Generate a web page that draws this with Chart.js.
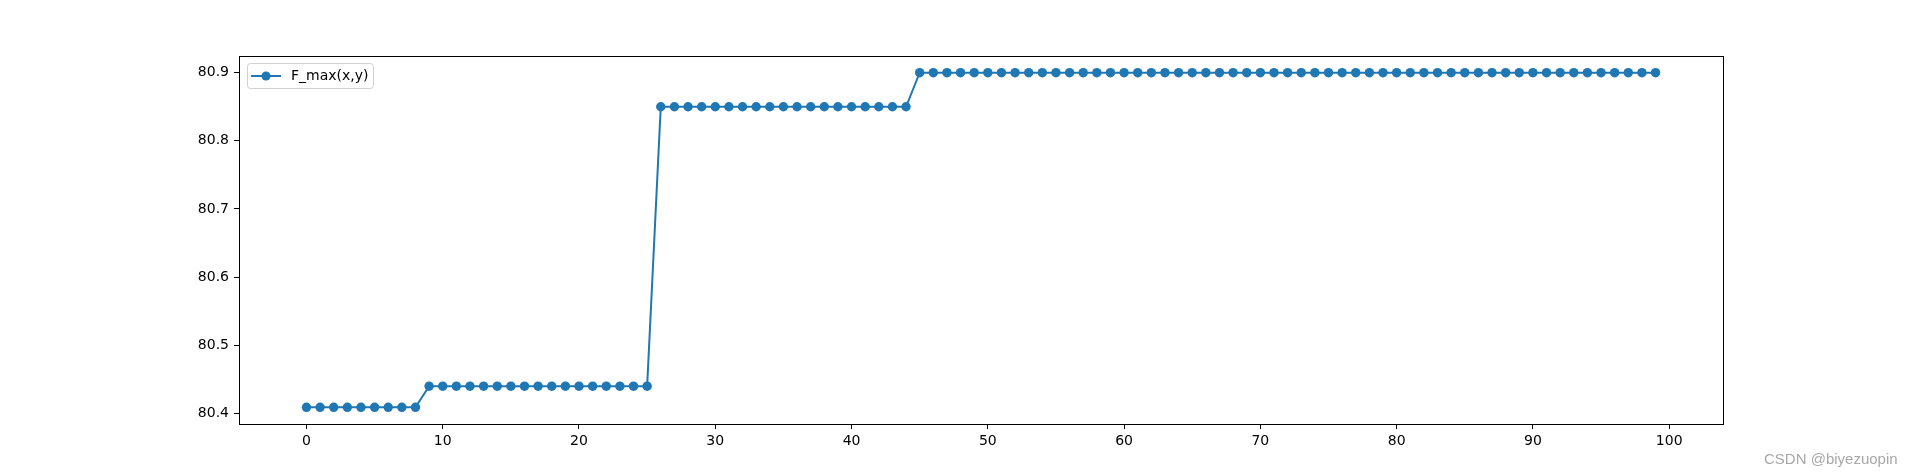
<!DOCTYPE html>
<html>
<head>
<meta charset="utf-8">
<script src="https://cdn.jsdelivr.net/npm/chart.js@4/dist/chart.umd.min.js"></script>
<style>
  html, body { margin: 0; padding: 0; background: #fff; }
  #wrap { position: relative; width: 1914px; height: 476px; }
  #watermark {
    position: absolute; left: 1764px; top: 450px;
    font-family: "Liberation Sans", Arial, sans-serif; font-size: 15px; color: #a8a8a8;
  }
</style>
</head>
<body>
<div id="wrap">
  <canvas id="chart" width="1914" height="476"></canvas>
  <div id="watermark">CSDN @biyezuopin</div>
</div>
<script>
// iteration index and best fitness per iteration
const iterations = Array.from({ length: 100 }, (_, i) => i);
const fMax = [
    80.409, 80.409, 80.409, 80.409, 80.409, 80.409, 80.409, 80.409, 80.409,
    80.44, 80.44, 80.44, 80.44, 80.44, 80.44, 80.44, 80.44, 80.44,
    80.44, 80.44, 80.44, 80.44, 80.44, 80.44, 80.44, 80.44,
    80.85, 80.85, 80.85, 80.85, 80.85, 80.85, 80.85, 80.85, 80.85, 80.85,
    80.85, 80.85, 80.85, 80.85, 80.85, 80.85, 80.85, 80.85, 80.85,
    80.9, 80.9, 80.9, 80.9, 80.9, 80.9, 80.9, 80.9, 80.9, 80.9,
    80.9, 80.9, 80.9, 80.9, 80.9, 80.9, 80.9, 80.9, 80.9, 80.9,
    80.9, 80.9, 80.9, 80.9, 80.9, 80.9, 80.9, 80.9, 80.9, 80.9,
    80.9, 80.9, 80.9, 80.9, 80.9, 80.9, 80.9, 80.9, 80.9, 80.9,
    80.9, 80.9, 80.9, 80.9, 80.9, 80.9, 80.9, 80.9, 80.9, 80.9,
    80.9, 80.9, 80.9, 80.9, 80.9
];
const xTicks = [0, 10, 20, 30, 40, 50, 60, 70, 80, 90, 100];
const yTicks = [80.4, 80.5, 80.6, 80.7, 80.8, 80.9];
const seriesLabel = "F_max(x,y)";

const blue = "#1f77b4";
const font = { family: "'DejaVu Sans', sans-serif", size: 14 };

// frame around the plot area + matplotlib-style legend box
const framePlugin = {
    id: "frame",
    afterDraw(chart) {
        const { ctx, chartArea: a } = chart;
        ctx.save();
        ctx.strokeStyle = "#000";
        ctx.lineWidth = 1;
        ctx.strokeRect(Math.round(a.left) + 0.5, Math.round(a.top) + 0.5,
            Math.round(a.right - a.left), Math.round(a.bottom - a.top));

        // legend
        const lx = a.left + 8, ly = a.top + 7, lw = 126, lh = 25;
        ctx.fillStyle = "rgba(255,255,255,0.8)";
        ctx.strokeStyle = "#d0d0d0";
        ctx.beginPath();
        ctx.roundRect(lx + 0.5, ly + 0.5, lw, lh, 3);
        ctx.fill();
        ctx.stroke();
        const my = ly + lh / 2 + 0.5;
        ctx.strokeStyle = blue;
        ctx.lineWidth = 2;
        ctx.beginPath();
        ctx.moveTo(lx + 4, my);
        ctx.lineTo(lx + 34, my);
        ctx.stroke();
        ctx.fillStyle = blue;
        ctx.beginPath();
        ctx.arc(lx + 19, my, 4.6, 0, Math.PI * 2);
        ctx.fill();
        ctx.fillStyle = "#000";
        ctx.font = "14px 'DejaVu Sans', sans-serif";
        ctx.textBaseline = "middle";
        ctx.fillText(seriesLabel, lx + 44, my);
        ctx.restore();
    }
};

new Chart(document.getElementById("chart").getContext("2d"), {
    type: "line",
    data: {
        datasets: [{
            label: seriesLabel,
            data: iterations.map((x, i) => ({ x: x, y: fMax[i] })),
            borderColor: blue,
            backgroundColor: blue,
            borderWidth: 2,
            pointRadius: 4.7,
            pointBorderWidth: 0,
            pointBackgroundColor: blue,
            tension: 0,
        }],
    },
    options: {
        responsive: false,
        animation: false,
        layout: { padding: { top: 56, right: 191, left: 0, bottom: 0 } },
        plugins: { legend: { display: false }, tooltip: { enabled: false } },
        scales: {
            x: {
                type: "linear",
                min: -4.95,
                max: 103.95,
                afterBuildTicks: (scale) => { scale.ticks = xTicks.map((v) => ({ value: v })); },
                afterFit: (scale) => { scale.height = 52; },
                grid: { drawOnChartArea: false, drawTicks: true, tickLength: 5, color: "#000" },
                border: { display: false },
                ticks: { color: "#000", font: font, padding: 4, maxRotation: 0 },
            },
            y: {
                type: "linear",
                min: 80.3845,
                max: 80.9245,
                afterBuildTicks: (scale) => { scale.ticks = yTicks.map((v) => ({ value: v })); },
                afterFit: (scale) => { scale.width = 239; },
                grid: { drawOnChartArea: false, drawTicks: true, tickLength: 5, color: "#000" },
                border: { display: false },
                ticks: { color: "#000", font: font, padding: 5, callback: (v) => v.toFixed(1) },
            },
        },
    },
    plugins: [framePlugin],
});
</script>
</body>
</html>
